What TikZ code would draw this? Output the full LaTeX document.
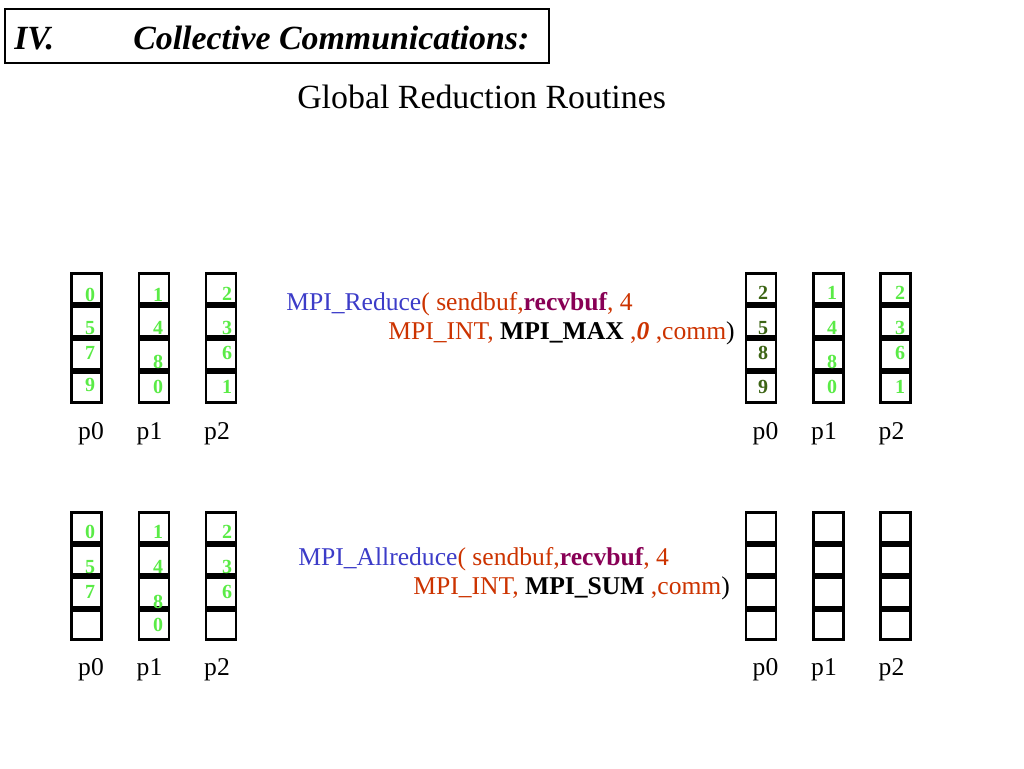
\documentclass[tikz,border=0pt]{standalone}
\usepackage{fontspec}
\setmainfont{Liberation Serif}
\usetikzlibrary{positioning}

\definecolor{mpiblue}{RGB}{60,60,200}
\definecolor{argred}{RGB}{204,51,0}
\definecolor{bufpurple}{RGB}{136,0,85}
\definecolor{valgreen}{RGB}{90,235,70}
\definecolor{resgreen}{RGB}{60,100,20}

\begin{document}
\begin{tikzpicture}[x=0.75pt, y=-0.75pt,
    cell/.style={draw, line width=2.2pt, minimum width=22.5pt, minimum height=22pt, inner sep=0pt},
    val/.style={text=valgreen, font=\fontsize{15}{15}\selectfont\bfseries, inner sep=0pt},
    res/.style={val, text=resgreen},
    proc/.style={font=\fontsize{19.2}{22}\selectfont, anchor=base, inner sep=0pt},
    call/.style={font=\fontsize{19.2}{22}\selectfont, anchor=base west, inner sep=0pt, text=argred}]
    \useasboundingbox (0,0) rectangle (1024,768);

    % title
    \draw[line width=2.2pt] (5,9) rectangle (549,63);
    \node[anchor=base west, inner sep=0pt, font=\fontsize{25.4}{30}\selectfont\bfseries\itshape] (secnum) at (14,49.5) {IV.};
    \node[anchor=base west, inner sep=0pt, font=\fontsize{25.4}{30}\selectfont\bfseries\itshape] (title) at (133,49.5) {Collective Communications:};
    \node[anchor=base west, inner sep=0pt, font=\fontsize{25.4}{30}\selectfont] (heading) at (297,108) {Global Reduction Routines};

    % buffers
    \foreach \grp/\x/\y/\dy in {tl/86.5/288.5/33, tr/761/288.5/33, bl/86.5/527.5/32.5, br/761/527.5/32.5}
        \foreach \c/\dx in {0/0, 1/67.5, 2/134.5}
            \foreach \r in {0,...,3}
                \node[cell] (\grp-\c-\r) at (\x+\dx, \y+\dy*\r) {};

    \foreach \grp/\x/\y in {tl/91/439, tr/765.5/439, bl/91/675, br/765.5/675}
        \foreach \c/\dx in {0/0, 1/58.5, 2/126}
            \node[proc] (\grp-p\c) at (\x+\dx, \y) {p\c};

    % values
    \foreach \v/\x/\y [count=\i] in {0/90/295, 5/90/328, 7/90/353, 9/90/385,
                                    1/158/295, 4/158/328, 8/158/362, 0/158/387,
                                    2/227/294, 3/227/328, 6/227/353, 1/227/387,
                                    1/832/293, 4/832/328, 8/832/362, 0/832/387,
                                    2/900/293, 3/900/328, 6/900/353, 1/900/387,
                                    0/90/532, 5/90/567, 7/90/592,
                                    1/158/532, 4/158/567, 8/158/602, 0/158/625,
                                    2/227/532, 3/227/567, 6/227/592}
        \node[val] (v\i) at (\x,\y) {\v};
    \foreach \v/\y [count=\i] in {2/293, 5/328, 8/353, 9/387}
        \node[res] (r\i) at (763,\y) {\v};

    % calls
    \node[call, text=mpiblue] (reduce1) at (286,310.5)
        {MPI\_Reduce\textcolor{argred}{( sendbuf,\textbf{\textcolor{bufpurple}{recvbuf}}, 4}};
    \node[call] (reduce2) at (388,339.5)
        {MPI\_INT, \textcolor{black}{\textbf{MPI\_MAX}} ,\textbf{\textit{0}} ,comm\textcolor{black}{)}};
    \node[call, text=mpiblue] (allred1) at (298,565.5)
        {MPI\_Allreduce\textcolor{argred}{( sendbuf,\textbf{\textcolor{bufpurple}{recvbuf}}, 4}};
    \node[call] (allred2) at (413,594.5)
        {MPI\_INT, \textcolor{black}{\textbf{MPI\_SUM}} ,comm\textcolor{black}{)}};
\end{tikzpicture}
\end{document}
